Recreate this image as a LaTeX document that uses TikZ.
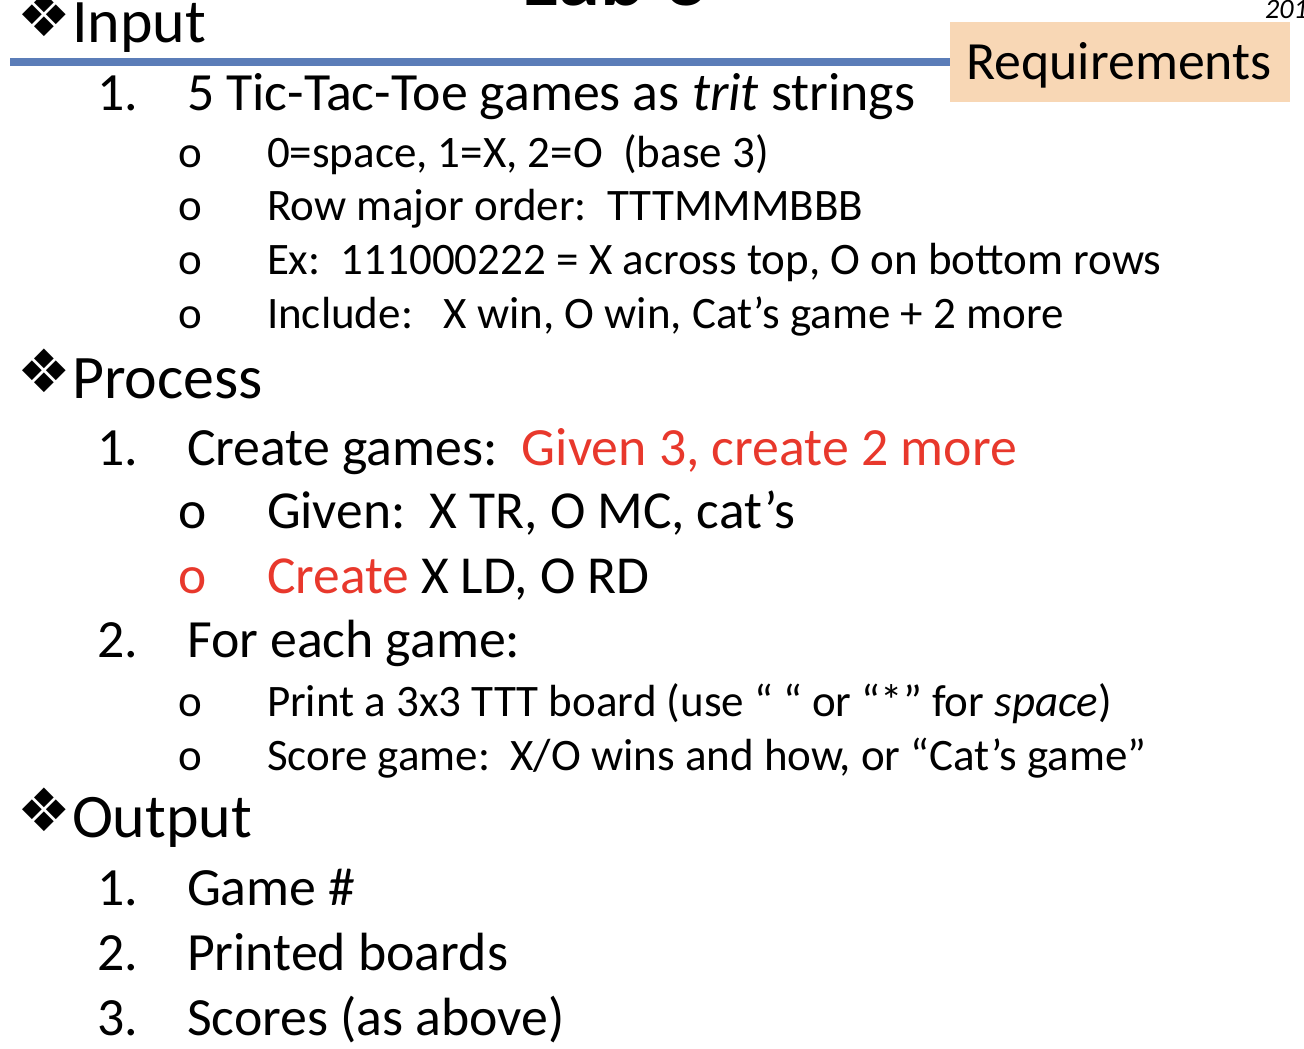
\documentclass[tikz,border=0pt]{standalone}
\usepackage{fontspec}
\setmainfont{Carlito}
\newfontfamily\dej{DejaVu Sans}
\definecolor{req}{HTML}{F8D7B5}
\definecolor{bl}{HTML}{5B7DB8}
\definecolor{rd}{HTML}{E8382C}
\begin{document}
\begin{tikzpicture}[x=0.01cm,y=-0.01cm,
 every node/.style={inner sep=0,outer sep=0,anchor=base west},
 head/.style={font=\fontsize{17.6}{21}\selectfont},
 lone/.style={font=\fontsize{15.3}{18}\selectfont},
 ltwo/.style={font=\fontsize{12.8}{15}\selectfont},
 ltwob/.style={font=\fontsize{15.2}{18}\selectfont}]
\useasboundingbox (0,0) rectangle (1304,1048);
\clip (0,0) rectangle (1304,1048);
\node[font=\bfseries\fontsize{24}{28}\selectfont,anchor=base] (title) at (615,5) {Lab 3};
\node[font=\itshape\fontsize{8}{9}\selectfont] (yr) at (1265,18) {2016};
\draw[bl,line width=2.2pt] (10,62) -- (950,62);
\node[fill=req,anchor=north west,minimum width=3.4cm,minimum height=0.8cm] (reqbox) at (950,22) {};
\node[font=\fontsize{15.3}{18}\selectfont,anchor=base] (req) at (1119,79) {Requirements};
% headings
\foreach \y/\t/\n in {42/Input/hi,398/Process/hp,837/Output/ho}{
 \node[font=\dej\fontsize{17}{20}\selectfont] (\n b) at (18,\y-6) {❖};
 \node[head] (\n) at (72,\y) {\t};
}
% level one
\node[lone] (n1) at (97,110) {1.};
\node[lone] (t1) at (187,110) {5 Tic-Tac-Toe games as \textit{trit} strings};
\foreach \y/\t/\n in {167/{0=space, 1=X, 2=O\ \ (base 3)}/a,220/{Row major order:\ \ TTTMMMBBB}/b,274/{Ex:\ \ 111000222 = X across top, O on bottom rows}/c,328/{Include:\ \ \ X win, O win, Cat’s game + 2 more}/d}{
 \node[ltwo] (s\n b) at (178,\y) {o};
 \node[ltwo] (s\n) at (267,\y) {\t};
}
\node[lone] (n2) at (97,465) {1.};
\node[lone] (t2) at (187,465) {Create games:\ \ \textcolor{rd}{Given 3, create 2 more}};
\node[ltwob] (sgb) at (178,528) {o};
\node[ltwob] (sg) at (267,528) {Given:\ \ X TR, O MC, cat’s};
\node[ltwob,text=rd] (scb) at (178,593) {o};
\node[ltwob] (sc) at (267,593) {\textcolor{rd}{Create} X LD, O RD};
\node[lone] (n3) at (97,657) {2.};
\node[lone] (t3) at (187,657) {For each game:};
\node[ltwo] (spb) at (178,716) {o};
\node[ltwo] (sp) at (267,716) {Print a 3x3 TTT board (use “ “ or “*” for \textit{space})};
\node[ltwo] (ssb) at (178,770) {o};
\node[ltwo] (ss) at (267,770) {Score game:\ \ X/O wins and how, or “Cat’s game”};
\node[lone] (n4) at (97,905) {1.};
\node[lone] (t4) at (187,905) {Game \#};
\node[lone] (n5) at (97,970) {2.};
\node[lone] (t5) at (187,970) {Printed boards};
\node[lone] (n6) at (97,1035) {3.};
\node[lone] (t6) at (187,1035) {Scores (as above)};
\end{tikzpicture}
\end{document}
